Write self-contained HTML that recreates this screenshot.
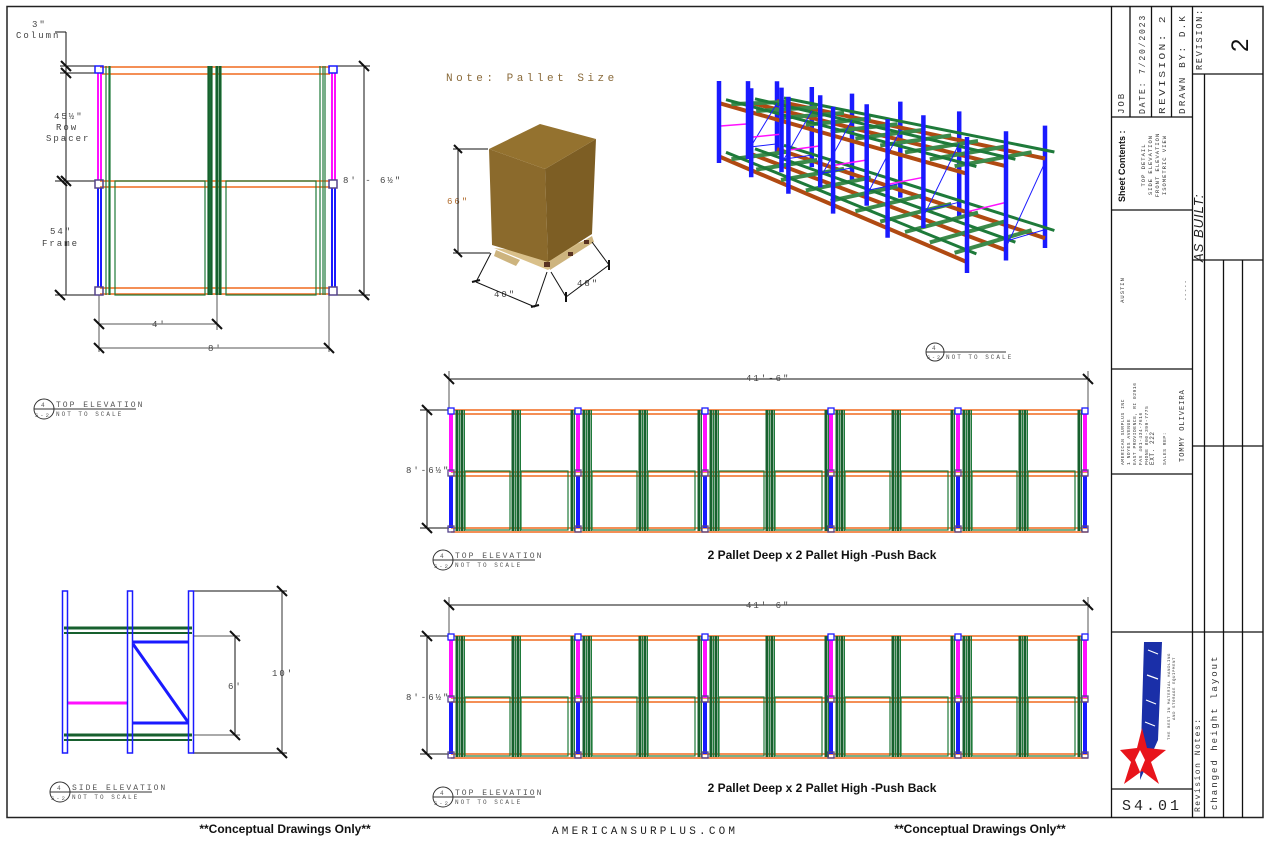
<!DOCTYPE html>
<html><head><meta charset="utf-8">
<style>
html,body{margin:0;padding:0;background:#fff;}
svg{display:block;}
text{font-family:"Liberation Mono","DejaVu Sans Mono",monospace;}
.s{font-family:"Liberation Sans",sans-serif;}
</style></head><body>
<svg id="sv" width="1282" height="841" viewBox="0 0 1282 841" xmlns="http://www.w3.org/2000/svg">
<rect x="0" y="0" width="1282" height="841" fill="#fff"/>
<rect x="7" y="6.5" width="1256" height="811" fill="none" stroke="#222" stroke-width="1.5"/>
<g stroke="#111" stroke-width="1.3" fill="none">
<line x1="1111.5" y1="6" x2="1111.5" y2="818"/>
<line x1="1192.5" y1="6" x2="1192.5" y2="818"/>
<line x1="1130" y1="6" x2="1130" y2="117"/>
<line x1="1151.5" y1="6" x2="1151.5" y2="117"/>
<line x1="1171.5" y1="6" x2="1171.5" y2="117"/>
<line x1="1111" y1="117" x2="1192" y2="117"/>
<line x1="1111" y1="210" x2="1192" y2="210"/>
<line x1="1111" y1="369" x2="1192" y2="369"/>
<line x1="1111" y1="474" x2="1192" y2="474"/>
<line x1="1111" y1="632" x2="1192" y2="632"/>
<line x1="1111" y1="789" x2="1192" y2="789"/>
<line x1="1192" y1="74" x2="1263" y2="74"/>
<line x1="1192" y1="260" x2="1263" y2="260"/>
<line x1="1192" y1="446" x2="1263" y2="446"/>
<line x1="1192" y1="632" x2="1263" y2="632"/>
<line x1="1204.5" y1="74" x2="1204.5" y2="818"/>
<line x1="1223.5" y1="260" x2="1223.5" y2="818"/>
<line x1="1242.5" y1="260" x2="1242.5" y2="818"/>
</g>
<g fill="#333" font-size="9" letter-spacing="2">
<text transform="translate(1124,114) rotate(-90)">JOB</text>
<text transform="translate(1145,114) rotate(-90)" font-size="9" textLength="100" lengthAdjust="spacingAndGlyphs">DATE: 7/20/2023</text>
<text transform="translate(1165,114) rotate(-90)" font-size="9" textLength="100" lengthAdjust="spacingAndGlyphs">REVISION:  2</text>
<text transform="translate(1185,114) rotate(-90)" font-size="9" textLength="100" lengthAdjust="spacingAndGlyphs">DRAWN BY:  D.K</text>
<text transform="translate(1202,70) rotate(-90)" font-size="9" textLength="62" lengthAdjust="spacingAndGlyphs">REVISION:</text>
<text transform="translate(1248,52) rotate(-90)" font-size="24" letter-spacing="0" class="s" fill="#111">2</text>
<text transform="translate(1125,202) rotate(-90)" font-size="9" letter-spacing="0" class="s" font-weight="bold" fill="#111">Sheet Contents :</text>
<g font-size="5.5" letter-spacing="1" text-anchor="middle">
<text transform="translate(1145,165) rotate(-90)">TOP DETAIL</text>
<text transform="translate(1152,165) rotate(-90)">SIDE ELEVATION</text>
<text transform="translate(1159,165) rotate(-90)">FRONT ELEVATION</text>
<text transform="translate(1166,165) rotate(-90)">ISOMETRIC VIEW</text>
<text transform="translate(1124,290) rotate(-90)">AUSTIN</text>
<text transform="translate(1187,290) rotate(-90)">-----</text>
</g>
<text transform="translate(1203,262) rotate(-90)" font-size="13" letter-spacing="1" font-style="italic" class="s" fill="#222">AS  BUILT:</text>
<g font-size="4.5" letter-spacing="0.6">
<text transform="translate(1124,465) rotate(-90)">AMERICAN SURPLUS INC</text>
<text transform="translate(1130,465) rotate(-90)">1 NOYES AVENUE</text>
<text transform="translate(1136,465) rotate(-90)">EAST PROVIDENCE, RI 02916</text>
<text transform="translate(1142,465) rotate(-90)">FAX 401-434-7616</text>
<text transform="translate(1148,465) rotate(-90)">PHONE 800-399-7775</text>
<text transform="translate(1154,465) rotate(-90)" font-size="6">EXT. 222</text>
<text transform="translate(1166,465) rotate(-90)">SALES REP:</text>
</g>
<text transform="translate(1184,462) rotate(-90)" font-size="7" letter-spacing="1">TOMMY OLIVEIRA</text>
<text transform="translate(1200,812) rotate(-90)" font-size="8" letter-spacing="1.5">Revision Notes:</text>
<text transform="translate(1217,810) rotate(-90)" font-size="9" letter-spacing="2">changed height layout</text>
<text x="1122" y="810" font-size="15" letter-spacing="3" fill="#222">S4.01</text>
<text transform="translate(1170,740) rotate(-90)" font-size="4" letter-spacing="0.6">THE BEST IN MATERIAL HANDLING</text>
<text transform="translate(1175,720) rotate(-90)" font-size="4" letter-spacing="0.6">AND STORAGE EQUIPMENT</text>
</g>
<polygon points="1144,642 1162,642 1158,740 1140,780" fill="#1a2fa8"/>
<g stroke="#fff" stroke-width="1.2"><line x1="1148" y1="650" x2="1158" y2="654"/><line x1="1147" y1="675" x2="1158" y2="679"/><line x1="1146" y1="700" x2="1156" y2="704"/><line x1="1145" y1="722" x2="1155" y2="726"/></g>
<polygon points="1142,728 1147,748 1166,750 1151,762 1159,784 1142,771 1124,784 1131,762 1120,750 1137,748" fill="#e8141b"/>
<polygon points="1140,750 1145,760 1140,772 1135,760" fill="#fff"/>
<g id="dyn"></g>
<g fill="#444" font-size="9" letter-spacing="2">
<text x="32" y="27">3"</text><text x="16" y="38">Column</text>
<text x="54" y="119">45½"</text><text x="56" y="130">Row</text><text x="46" y="141">Spacer</text>
<text x="50" y="234">54"</text><text x="42" y="246">Frame</text>
<text x="343" y="183">8' - 6½"</text>
<text x="152" y="327">4'</text>
<text x="208" y="351">8'</text>
<text x="446" y="81" font-size="11" letter-spacing="3.5" fill="#8a6a3a">Note: Pallet Size</text>
<text x="447" y="204" fill="#b06a2a">66"</text>
<text x="494" y="297">40"</text>
<text x="577" y="286">48"</text>
<text x="746" y="381">41'-6"</text>
<text x="746" y="608">41'-6"</text>
<text x="406" y="473">8'-6½"</text>
<text x="406" y="700">8'-6½"</text>
<text x="272" y="676">10'</text>
<text x="228" y="689">6'</text>
</g>
<g class="s" font-weight="bold" font-size="12" fill="#111" text-anchor="middle">
<text x="822" y="559" class="s">2 Pallet Deep x 2 Pallet High -Push Back</text>
<text x="822" y="792" class="s">2 Pallet Deep x 2 Pallet High -Push Back</text>
<text x="285" y="833" class="s">**Conceptual Drawings Only**</text>
<text x="980" y="833" class="s">**Conceptual Drawings Only**</text>
</g>
<text x="552" y="834" font-size="11" letter-spacing="3.2" fill="#222">AMERICANSURPLUS.COM</text>
<!-- pallet box -->
<polygon points="494,248 548,270 592,238 548,254" fill="#d9c08a"/>
<polygon points="489,149 545,169 548,262 492,245" fill="#8b6a2c"/>
<polygon points="545,169 596,139 592,234 548,262" fill="#7d5e24"/>
<polygon points="489,149 540,124 596,139 545,169" fill="#94722f"/>
<polygon points="496,250 520,260 516,266 494,256" fill="#cdb47e"/>
<polygon points="548,262 592,236 594,242 550,270" fill="#cdb47e"/>
<rect x="544" y="262" width="6" height="5" fill="#5a3322"/>
<rect x="568" y="252" width="5" height="4" fill="#5a3322"/>
<rect x="584" y="240" width="5" height="4" fill="#5a3322"/>
<g stroke="#111" stroke-width="1" fill="none">
<line x1="453" y1="149" x2="488" y2="149"/><line x1="453" y1="253" x2="490" y2="253"/><line x1="458" y1="149" x2="458" y2="253"/>
<line x1="454" y1="145" x2="462" y2="153" stroke-width="2"/><line x1="454" y1="249" x2="462" y2="257" stroke-width="2"/>
<line x1="491" y1="253" x2="476" y2="282"/><line x1="476" y1="282" x2="535" y2="307"/><line x1="547" y1="272" x2="535" y2="307"/>
<line x1="472" y1="282" x2="480" y2="280" stroke-width="2"/><line x1="531" y1="307" x2="539" y2="305" stroke-width="2"/>
<line x1="551" y1="272" x2="566" y2="297"/><line x1="566" y1="297" x2="609" y2="265"/><line x1="592" y1="242" x2="609" y2="265"/>
<line x1="566" y1="292" x2="566" y2="302" stroke-width="2"/><line x1="609" y1="260" x2="609" y2="270" stroke-width="2"/>
</g>
</svg>
<script>
(function(){
var g=document.getElementById("dyn"),out=[];
function L(x1,y1,x2,y2,c,w){out.push('<line x1="'+x1+'" y1="'+y1+'" x2="'+x2+'" y2="'+y2+'" stroke="'+c+'" stroke-width="'+w+'"/>');}
function R(x,y,w,h,c,sw,f){out.push('<rect x="'+x+'" y="'+y+'" width="'+w+'" height="'+h+'" fill="'+(f||'none')+'" stroke="'+c+'" stroke-width="'+(sw||1)+'"/>');}
function T(x,y,t,s){out.push('<text x="'+x+'" y="'+y+'" font-size="'+s+'" fill="#555" letter-spacing="2">'+t+'</text>');}
function tick(x,y){L(x-5,y-5,x+5,y+5,"#111",2);}
var OR="#f06a1e",GR="#1e7a3a",DG="#17602e",BL="#1a1aff",MG="#ff10ff";
L(66,32,66,295,"#111",1);L(55,32,66,32,"#111",1);
L(60,66,95,66,"#111",1);L(60,73,95,73,"#111",1);
L(55,181,95,181,"#111",1);L(55,295,95,295,"#111",1);
tick(66,66);tick(66,73);tick(62,181);tick(66,181);tick(60,295);
L(336,66,370,66,"#111",1);L(336,295,370,295,"#111",1);L(364,66,364,295,"#111",1);tick(364,66);tick(364,295);
L(99,295,99,352,"#555",1);L(217,295,217,330,"#555",1);L(329,295,329,352,"#555",1);
L(99,324,217,324,"#555",1);L(99,348,329,348,"#555",1);tick(99,324);tick(217,324);tick(99,348);tick(329,348);
[[67,74],[181,187],[288,294]].forEach(function(p){L(100,p[0],330,p[0],OR,1.5);L(100,p[1],330,p[1],OR,1.5);});
[106,109,110,208,210,212,216,218,220,221,320,323,325].forEach(function(x){L(x,66,x,295,GR,1.2);});
[208.5,211.5,217,220].forEach(function(x){L(x,66,x,295,DG,2);});
R(115,181,90,114,GR,1.2);R(226,181,90,114,GR,1.2);
[95,329].forEach(function(x){L(x+3,73,x+3,180,MG,2);L(x+6,73,x+6,180,MG,2);L(x+3,188,x+3,287,BL,2);L(x+6,188,x+6,287,BL,2);
 R(x,66,8,7,BL,1.5);R(x,180,8,8,"#55448a",1.5);R(x,287,8,8,"#55448a",1.5);});
function front(y0,y1,y2,dimY){
 var cols=[451,578,705,831,958,1085];
 L(449,dimY-8,449,y0,"#555",1);L(449,dimY,1090,dimY,"#111",1);L(1088,dimY-8,1088,y0,"#555",1);tick(449,dimY);tick(1088,dimY);
 L(420,y0,449,y0,"#111",1);L(420,y2,449,y2,"#111",1);L(427,y0,427,y2,"#111",1);tick(427,y0);tick(427,y2);
 [y0,y1,y2].forEach(function(y){L(451,y,1088,y,OR,1.5);L(451,y+4,1088,y+4,OR,1.5);});
 for(var i=0;i<5;i++){var c=cols[i];
  [c+6,c+11,c+62,c+67,c+121].forEach(function(x){L(x,y0,x,y2+3,DG,3);L(x+2.5,y0,x+2.5,y2+3,GR,1);});
  R(c+14,y1-1,45,y2-y1+3,GR,1.2);R(c+70,y1-1,47,y2-y1+3,GR,1.2);}
 cols.forEach(function(c){L(c,y0+4,c,y1,MG,4);L(c,y1+4,c,y2,BL,4);
  R(c-3,y0-2,6,6,BL,1.3,"#fff");R(c-3,y1-2,6,6,"#55448a",1.3);R(c-3,y2-2,6,6,"#55448a",1.3);});
}
front(410,472,528,379);
front(636,698,754,605);
function callout(x,y,t1,t2){out.push('<circle cx="'+x+'" cy="'+y+'" r="10" fill="none" stroke="#333" stroke-width="1"/>');
 L(x-10,y,x+92,y,"#333",1);T(x-3,y-2,"4",6);T(x-9,y+8,"S-2",5.5);T(x+12,y-2,t1,8);T(x+12,y+7,t2,6);}
callout(44,409,"TOP ELEVATION","NOT TO SCALE");
callout(443,560,"TOP ELEVATION","NOT TO SCALE");
callout(60,792,"SIDE ELEVATION","NOT TO SCALE");
callout(443,797,"TOP ELEVATION","NOT TO SCALE");
out.push('<circle cx="935" cy="352" r="9" fill="none" stroke="#333" stroke-width="1"/>');L(926,352,1006,352,"#333",1);T(932,350,"4",6);T(927,359,"S-2",5);T(946,359,"NOT TO SCALE",6);
L(193,591,287,591,"#111",1);L(193,753,287,753,"#555",1.5);L(282,591,282,753,"#777",1.5);tick(282,591);tick(282,753);
L(193,636,240,636,"#555",1);L(193,735,240,735,"#555",1);L(235,636,235,735,"#111",1);tick(235,636);tick(235,735);
[[628,633],[735,740]].forEach(function(p){L(64,p[0],192,p[0],DG,3);L(64,p[1],192,p[1],DG,2);});
L(133,642,188,642,BL,3);L(133,723,188,723,BL,3);L(133,644,188,722,BL,3);
L(68,703,127,703,MG,3);
[65,130,191].forEach(function(x){R(x-2.5,591,5,162,BL,1.5);});
// isometric
function P(u,d,h){var bx=719+(967-719)*u, by=163+(273-163)*u;
 var dvx=58+(78-58)*u, dvy=-8+(-25+8)*u; bx+=dvx*d; by+=dvy*d;
 var H=(82+(136-82)*u)*(1-0.1*d); return [bx,by-H*h];}
function Lp(a,b,c,w){L(a[0].toFixed(1),a[1].toFixed(1),b[0].toFixed(1),b[1].toFixed(1),c,w);}
var us=[0,0.13,0.28,0.46,0.68,1],ds=[0,0.5,1];
// back posts first
for(var k=0;k<6;k++){Lp(P(us[k],1,0),P(us[k],1,1),BL,4.5);}
for(var di=2;di>=0;di--){var d=ds[di];[0.08,0.73].forEach(function(h){Lp(P(0,d,h),P(1,d,h),"#b04a12",4);});}
[0.08,0.73].forEach(function(h){
 for(var i=0;i<10;i++){var u=(i+0.5)/10; Lp(P(u,0,h+0.03),P(u,1,h+0.03),"#3c8a4a",4);}
 for(var j=0;j<3;j++){Lp(P(0,ds[j]+0.12,h+0.04),P(1,ds[j]+0.12,h+0.04),GR,3);}
});
for(var k=0;k<6;k++){var u=us[k];
 Lp(P(u,0.5,0.1),P(u,1,0.7),BL,1);Lp(P(u,0.5,0.15),P(u,1,0.15),BL,1);
 Lp(P(u,0,0.45),P(u,0.5,0.45),MG,1.5);}
for(var di2=1;di2>=0;di2--){for(var k2=0;k2<6;k2++){var u2=us[k2];Lp(P(u2,ds[di2],0),P(u2,ds[di2],1),BL,4.5);}}
g.innerHTML=out.join("");
})();
</script>
</body></html>
